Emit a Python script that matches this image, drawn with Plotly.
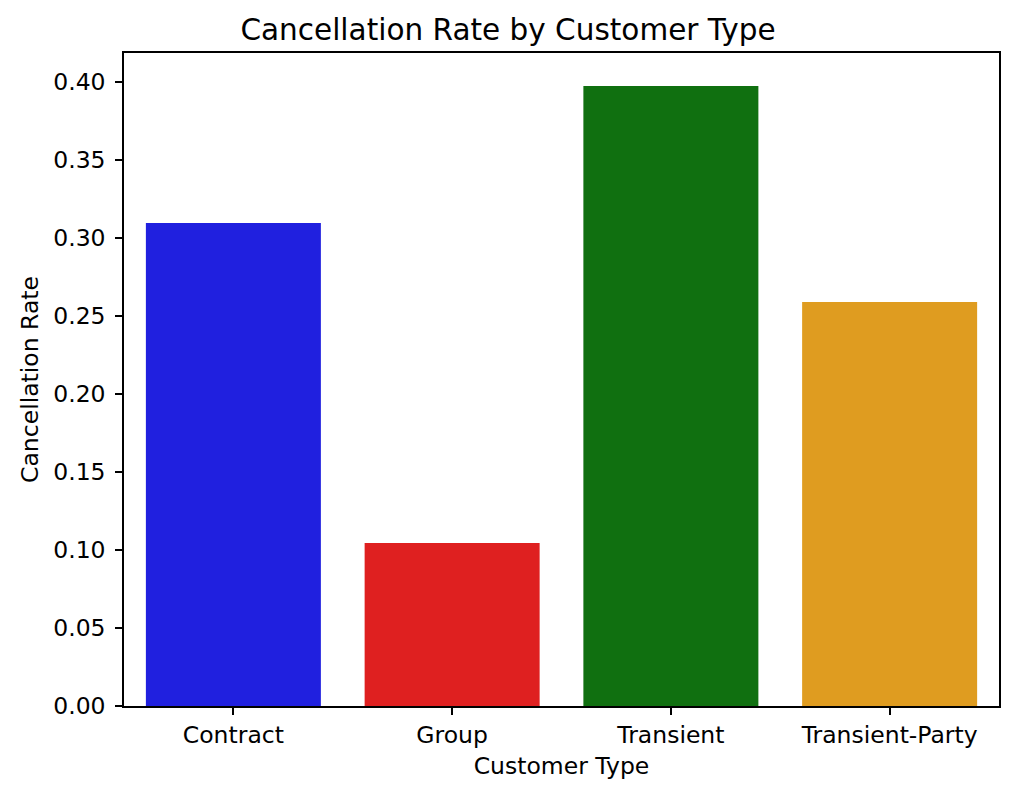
import plotly.graph_objects as go

categories = ["Contract", "Group", "Transient", "Transient-Party"]
cancel_rate = [0.3096, 0.1045, 0.3974, 0.259]
bar_colors = ["#2020DF", "#DF2020", "#107010", "#DF9C20"]
y_ticks = [0.0, 0.05, 0.10, 0.15, 0.20, 0.25, 0.30, 0.35, 0.40]
y_tick_labels = ["0.00", "0.05", "0.10", "0.15", "0.20", "0.25", "0.30", "0.35", "0.40"]

FONT = "DejaVu Sans"
TICK_SIZE = 23.5

fig = go.Figure(go.Bar(
    x=categories, y=cancel_rate, marker=dict(color=bar_colors, line=dict(width=0)),
    width=0.8,
))

fig.update_layout(
    width=1016, height=800,
    margin=dict(l=124, r=17, t=53, b=94),
    paper_bgcolor="white", plot_bgcolor="white",
    font=dict(family=FONT, color="black", size=TICK_SIZE),
    title=dict(text="Cancellation Rate by Customer Type", x=0.5, xanchor="center",
               y=1 - 30/800, yanchor="middle", font=dict(size=29.5, family=FONT, color="black")),
    showlegend=False,
    bargap=0.2,
)

fig.update_xaxes(
    range=[-0.5, 3.5], showline=True, linecolor="black", linewidth=1.5, mirror=True,
    ticks="outside", ticklen=7, tickwidth=1.5, tickcolor="black", showgrid=False,
    ticklabelstandoff=0,
    title=dict(text="Customer Type", font=dict(size=TICK_SIZE, family=FONT), standoff=10),
    tickfont=dict(size=TICK_SIZE, family=FONT),
)
fig.update_yaxes(
    range=[0, 0.4186], tickvals=y_ticks, ticktext=y_tick_labels,
    showline=True, linecolor="black", linewidth=1.5, mirror=True,
    ticks="outside", ticklen=7, tickwidth=1.5, tickcolor="black", showgrid=False, zeroline=False,
    ticklabelstandoff=5,
    title=dict(text="Cancellation Rate", font=dict(size=TICK_SIZE, family=FONT), standoff=8),
    tickfont=dict(size=TICK_SIZE, family=FONT),
)

fig.write_html("out.html")
